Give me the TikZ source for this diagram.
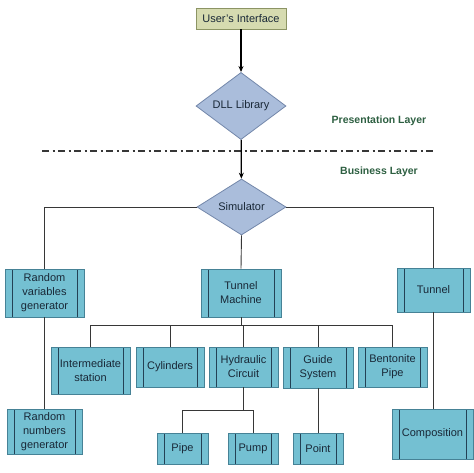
\documentclass[tikz,border=0pt]{standalone}
\usepackage{fontspec}
\setmainfont{Liberation Sans}
\usetikzlibrary{shapes.geometric,arrows.meta}
\definecolor{boxfill}{RGB}{116,192,210}
\definecolor{boxline}{RGB}{70,130,150}
\definecolor{boxinner}{RGB}{35,65,85}
\definecolor{diafill}{RGB}{170,189,219}
\definecolor{dialine}{RGB}{115,135,170}
\definecolor{uifill}{RGB}{214,219,176}
\definecolor{uiline}{RGB}{140,148,100}
\definecolor{txt}{RGB}{25,40,55}
\definecolor{layer}{RGB}{45,95,65}
\definecolor{conn}{RGB}{55,55,55}
\tikzset{
  proc/.style={rectangle, fill=boxfill, draw=boxline, line width=0.8pt, align=center,
    text=txt, font=\fontsize{11}{14}\selectfont, inner sep=0pt,
    path picture={
      \draw[boxinner, line width=0.9pt]
        ([xshift=7pt]path picture bounding box.south west) -- ([xshift=7pt]path picture bounding box.north west)
        ([xshift=-7pt]path picture bounding box.south east) -- ([xshift=-7pt]path picture bounding box.north east);
    }},
  dia/.style={diamond, fill=diafill, draw=dialine, line width=0.8pt, text=txt,
    font=\fontsize{11}{14}\selectfont, inner sep=0pt},
  uibox/.style={rectangle, fill=uifill, draw=uiline, line width=0.9pt, text=txt,
    font=\fontsize{11}{14}\selectfont, inner sep=0pt},
  layerlabel/.style={text=layer, font=\bfseries\fontsize{10.5}{13}\selectfont},
  arr/.style={-{Stealth[length=6pt,width=5pt]}, line width=1.2pt, black},
  link/.style={conn, line width=0.9pt},
}
\begin{document}
\begin{tikzpicture}[x=1pt,y=-1pt]
\useasboundingbox (0,0) rectangle (474,472);
% top
\node[uibox, minimum width=90pt, minimum height=21pt] (ui) at (241,18.5) {User’s Interface};
\node[dia, minimum width=90pt, minimum height=54pt] (dll) at (241,106) {DLL Library};
\node[dia, minimum width=89pt, minimum height=56pt] (sim) at (241.5,207) {Simulator};
\node[layerlabel] (pl) at (379,121) {Presentation Layer};
\node[layerlabel] (bl) at (379,172) {Business Layer};
\coordinate (dl) at (42,151);
\coordinate (dr) at (434,151);
\draw[line width=1.3pt, conn, dash pattern=on 7pt off 3.5pt on 2pt off 3.5pt] (dl) -- (dr);
% level 1
\node[proc, minimum width=79pt, minimum height=48pt] (rvg) at (44.5,293) {Random\\variables\\generator};
\node[proc, minimum width=80pt, minimum height=48pt] (tm) at (241,293) {Tunnel\\Machine};
\node[proc, minimum width=73pt, minimum height=44pt] (tun) at (433.5,290) {Tunnel};
% level 2
\node[proc, minimum width=79pt, minimum height=47pt] (inter) at (90.5,370.5) {Intermediate\\station};
\node[proc, minimum width=68pt, minimum height=40pt] (cyl) at (170,367) {Cylinders};
\node[proc, minimum width=69pt, minimum height=40pt] (hyd) at (243.5,367) {Hydraulic\\Circuit};
\node[proc, minimum width=70pt, minimum height=41pt] (guide) at (318,367.5) {Guide\\System};
\node[proc, minimum width=69pt, minimum height=40pt] (bent) at (392.5,367) {Bentonite\\Pipe};
% level 3
\node[proc, minimum width=75pt, minimum height=45pt] (rng) at (44.5,431.5) {Random\\numbers\\generator};
\node[proc, minimum width=51pt, minimum height=31pt] (pipe) at (182.5,448.5) {Pipe};
\node[proc, minimum width=50pt, minimum height=31pt] (pump) at (253,448.5) {Pump};
\node[proc, minimum width=50pt, minimum height=31pt] (point) at (318,448.5) {Point};
\node[proc, minimum width=81pt, minimum height=50pt] (comp) at (432.5,434) {Composition};
% arrows
\draw[arr] (ui) -- (dll);
\draw[arr] (dll) -- (sim);
% links
\draw[link] (sim.west) -| (rvg.north);
\draw[link] (sim.east) -| (tun.north);
\draw[link] (sim.south) -- (tm.north);
\draw[link] (rvg.south) -- (rng.north);
\coordinate (bus) at (241,325);
\draw[link] (tm.south) -- (bus);
\draw[link] (bus) -| (inter.north);
\draw[link] (bus) -| (cyl.north);
\draw[link] (bus) -| (hyd.north);
\draw[link] (bus) -| (guide.north);
\draw[link] (bus) -| (bent.north);
\coordinate (bus2) at (243.5,410);
\draw[link] (hyd.south) -- (bus2);
\draw[link] (bus2) -| (pipe.north);
\draw[link] (bus2) -| (pump.north);
\draw[link] (guide.south) -- (point.north);
\draw[link] (tun.south) -- (tun.south |- comp.north);
\end{tikzpicture}
\end{document}
